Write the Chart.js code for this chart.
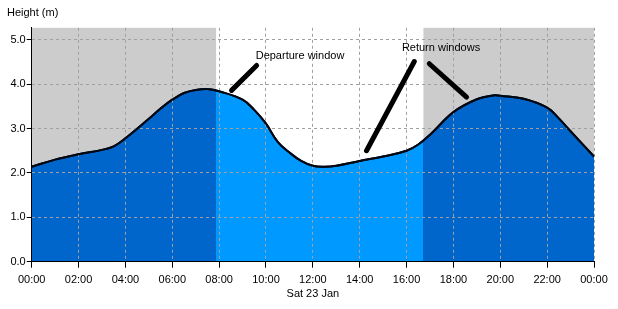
<!DOCTYPE html>
<html>
<head>
<meta charset="utf-8">
<script src="https://cdn.jsdelivr.net/npm/chart.js@4.4.1/dist/chart.umd.min.js"></script>
<style>
  html, body { margin: 0; padding: 0; background: #ffffff; }
  #wrap { width: 618px; height: 309px; }
</style>
</head>
<body>
<div id="wrap"><canvas id="c" width="618" height="309"></canvas></div>
<script>
// ---- data ----
const hours   = [0, 1, 2, 3, 3.5, 4, 5, 5.5, 6, 6.5, 7, 7.5, 8, 9, 9.5, 10, 10.5, 11, 11.5, 12, 12.5, 13, 14, 15, 16, 16.5, 17, 18, 19, 19.75, 20, 21, 22, 22.5, 23, 24];
const heights = [2.14, 2.30, 2.42, 2.52, 2.60, 2.78, 3.22, 3.45, 3.65, 3.80, 3.87, 3.89, 3.84, 3.65, 3.42, 3.11, 2.70, 2.46, 2.27, 2.16, 2.14, 2.16, 2.27, 2.37, 2.50, 2.64, 2.86, 3.37, 3.66, 3.75, 3.74, 3.67, 3.47, 3.23, 2.94, 2.37];
const xTickValues = [0, 2, 4, 6, 8, 10, 12, 14, 16, 18, 20, 22, 24];
const xTickLabels = ['00:00', '02:00', '04:00', '06:00', '08:00', '10:00', ['12:00', 'Sat 23 Jan'], '14:00', '16:00', '18:00', '20:00', '22:00', '00:00'];
const yTickValues = [0, 1, 2, 3, 4, 5];
const windowStart = 7.87;   // hours
const windowEnd = 16.72;    // hours
const yMax = 5.27;
// annotation callouts in data units [x1, y1, x2, y2]
const annotationLines = [
  [8.53, 3.86, 9.60, 4.42],
  [14.29, 2.50, 16.33, 4.51],
  [16.97, 4.46, 18.56, 3.71]
];
const annotationTexts = [
  { text: 'Departure window', x: 9.56, y: 4.64 },
  { text: 'Return windows', x: 15.80, y: 4.81 }
];

const DARK = '#0066cc';
const LIGHT = '#0099ff';
const GRAY = '#cccccc';
const FONT = { family: '"Liberation Sans", Arial, sans-serif', size: 11, lineHeight: 1.3 };

const points = hours.map((h, i) => ({ x: h, y: heights[i] }));

function fillGradient(context) {
  const chart = context.chart;
  const xs = chart.scales.x;
  if (!chart.chartArea || !xs) return DARK;
  const p0 = xs.getPixelForValue(0), p1 = xs.getPixelForValue(24);
  const g = chart.ctx.createLinearGradient(p0, 0, p1, 0);
  const s = (xs.getPixelForValue(windowStart) - p0) / (p1 - p0);
  const e = (xs.getPixelForValue(windowEnd) - p0) / (p1 - p0);
  g.addColorStop(0, DARK);
  g.addColorStop(s, DARK);
  g.addColorStop(s, LIGHT);
  g.addColorStop(e, LIGHT);
  g.addColorStop(e, DARK);
  g.addColorStop(1, DARK);
  return g;
}

const bgPlugin = {
  id: 'bg',
  beforeDraw(chart) {
    const { ctx, chartArea: a, scales: { x } } = chart;
    ctx.save();
    ctx.fillStyle = GRAY;
    const xs = x.getPixelForValue(windowStart);
    const xe = x.getPixelForValue(windowEnd);
    ctx.fillRect(a.left, a.top, xs - a.left, a.bottom - a.top);
    ctx.fillRect(xe, a.top, a.right - xe, a.bottom - a.top);
    ctx.restore();
  },
  afterDraw(chart) {
    const { ctx, scales: { x, y } } = chart;
    // redraw the tide line above the grid
    const meta = chart.getDatasetMeta(0);
    ctx.save();
    meta.dataset.draw(ctx, chart.chartArea);
    ctx.restore();
    // callouts
    ctx.save();
    ctx.strokeStyle = '#000';
    ctx.lineWidth = 5;
    ctx.lineCap = 'round';
    annotationLines.forEach(([x1, y1, x2, y2]) => {
      ctx.beginPath();
      ctx.moveTo(x.getPixelForValue(x1), y.getPixelForValue(y1));
      ctx.lineTo(x.getPixelForValue(x2), y.getPixelForValue(y2));
      ctx.stroke();
    });
    ctx.fillStyle = '#000';
    ctx.font = '11px ' + FONT.family;
    ctx.textBaseline = 'middle';
    ctx.textAlign = 'left';
    annotationTexts.forEach(t => {
      ctx.fillText(t.text, x.getPixelForValue(t.x), y.getPixelForValue(t.y));
    });
    ctx.restore();
  }
};

new Chart(document.getElementById('c'), {
  type: 'line',
  data: {
    datasets: [{
      data: points,
      borderColor: '#000814',
      borderWidth: 2,
      pointRadius: 0,
      tension: 0.4,
      fill: 'origin',
      backgroundColor: fillGradient
    }]
  },
  options: {
    responsive: false,
    animation: false,
    devicePixelRatio: 1,
    layout: { padding: { left: 7, right: 24, top: 0, bottom: 0 } },
    plugins: {
      legend: { display: false },
      tooltip: { enabled: false },
      title: {
        display: true,
        text: 'Height (m)',
        align: 'start',
        color: '#000',
        font: { family: FONT.family, size: 11, weight: 'normal', lineHeight: 1.2 },
        padding: { top: 6, bottom: 8.6 }
      }
    },
    scales: {
      x: {
        type: 'linear',
        min: 0,
        max: 24,
        afterBuildTicks: (axis) => { axis.ticks = xTickValues.map(v => ({ value: v })); },
        afterFit: (axis) => { axis.height = 47.3; },
        ticks: {
          autoSkip: false,
          maxRotation: 0,
          color: '#000',
          font: FONT,
          padding: 5,
          callback: (v) => xTickLabels[xTickValues.indexOf(v)]
        },
        grid: {
          z: 1,
          color: '#a0a0a0',
          tickColor: '#000',
          tickBorderDash: [],
          tickLength: 6,
          drawTicks: true
        },
        border: { display: true, color: '#000', width: 1, z: 2, dash: [3, 3] }
      },
      y: {
        min: 0,
        max: yMax,
        afterBuildTicks: (axis) => { axis.ticks = yTickValues.map(v => ({ value: v })); },
        afterFit: (axis) => { axis.width = 24.7; },
        ticks: {
          color: '#000',
          font: FONT,
          padding: 1,
          callback: (v) => Number(v).toFixed(1)
        },
        grid: {
          z: 1,
          color: '#a0a0a0',
          tickColor: '#000',
          tickBorderDash: [],
          tickLength: 5
        },
        border: { display: true, color: '#000', width: 1, z: 2, dash: [3, 3] }
      }
    }
  },
  plugins: [bgPlugin]
});
</script>
</body>
</html>
